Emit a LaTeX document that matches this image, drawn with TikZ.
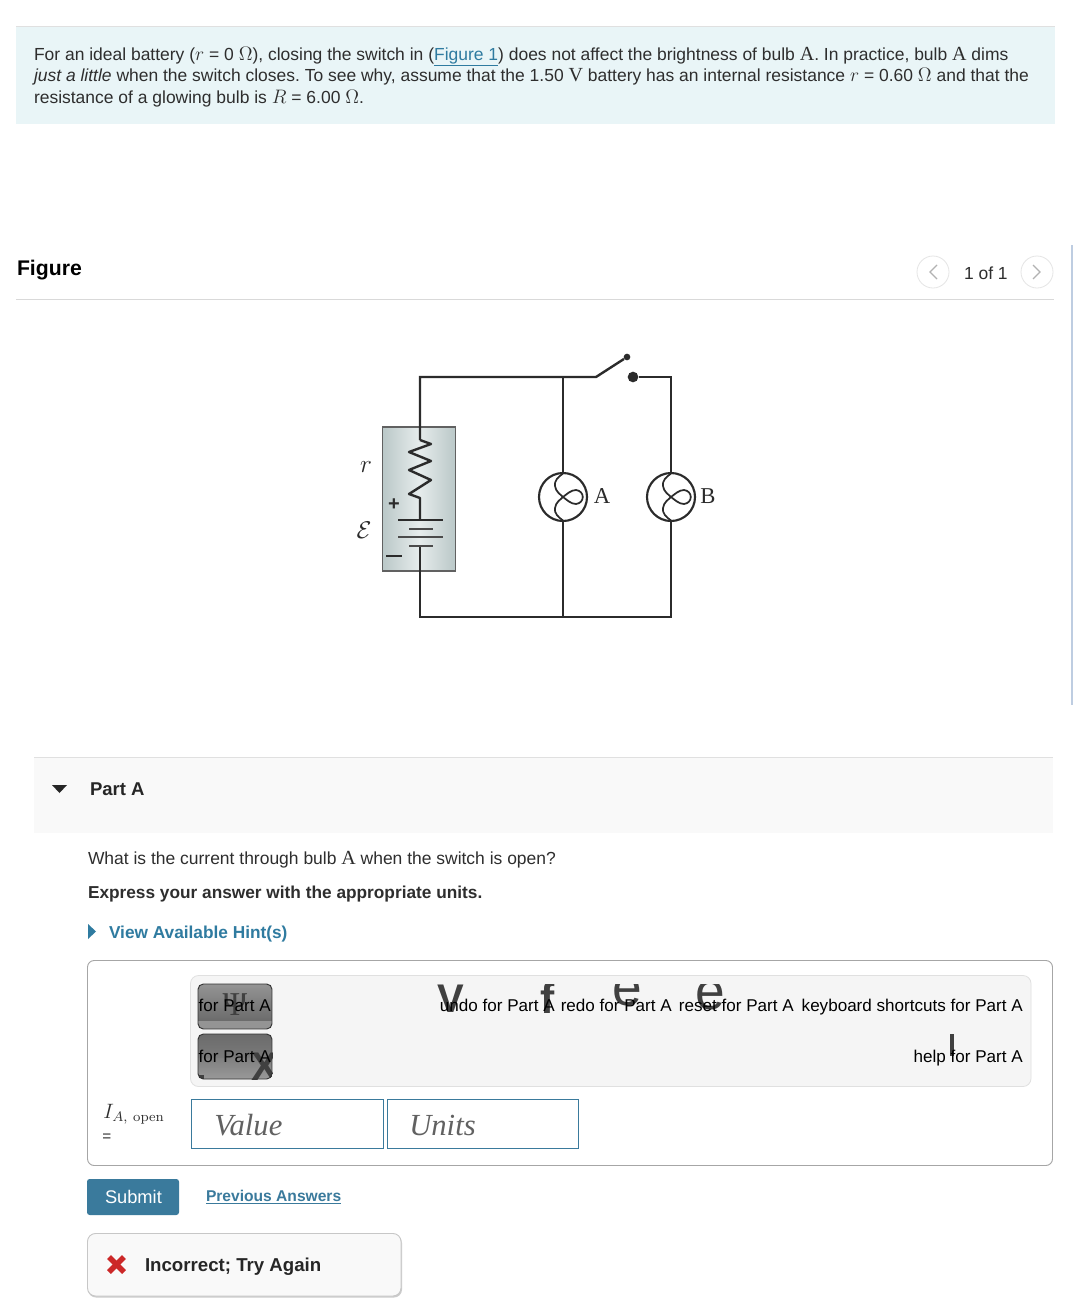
\documentclass[tikz,border=0pt]{standalone}
\usepackage[no-math]{fontspec}
\setmainfont{Liberation Sans}
\newfontfamily\lmr{Latin Modern Roman}
\newfontfamily\lser{Liberation Serif}
\usetikzlibrary{calc}
\definecolor{txt}{HTML}{2E2E2E}
\definecolor{link}{HTML}{2F7BA0}
\definecolor{teal}{HTML}{3A7A9C}
\definecolor{wirec}{HTML}{2B2B2B}
\definecolor{panel}{HTML}{E9F5F7}
\definecolor{edgeblue}{HTML}{BECDE1}
\definecolor{xred}{HTML}{CC2828}
\definecolor{battedge}{HTML}{BAC8C8}
\definecolor{battmid}{HTML}{E6ECEC}
\newcommand{\lt}[1]{{\fontsize{15pt}{14pt}\selectfont\lser #1}}
\newcommand{\mv}[1]{\scalebox{1.22}{$#1$}}
\newcommand{\filament}[1]{\draw[thinwire,shift={(#1)}] (0,-23.5) .. controls (-5,-20) and (-9,-16) .. (-8,-11) .. controls (-7,-5) and (-3,-3) .. (0,0) .. controls (4,3) and (8,7) .. (13,7) .. controls (22,6) and (22,-6) .. (13,-7) .. controls (8,-7) and (4,-3) .. (0,0) .. controls (-3,3) and (-7,5) .. (-8,11) .. controls (-9,16) and (-5,20) .. (0,23.5);}
\tikzset{
  x=0.75pt,y=-0.75pt,
  body/.style={anchor=base west,inner sep=0pt,outer sep=0pt,font=\fontsize{13.1pt}{14pt}\selectfont\frenchspacing,text=txt},
  bodyb/.style={body,font=\fontsize{12.95pt}{14pt}\selectfont\bfseries},
  wire/.style={draw=wirec,line width=1.8pt},
  thinwire/.style={draw=wirec,line width=1.3pt},
  bulb/.style={circle,draw=wirec,line width=1.6pt,minimum size=36pt,inner sep=0pt,fill=white},
  clabel/.style={anchor=center,inner sep=0pt,text=wirec,font=\fontsize{17pt}{17pt}\selectfont\lser},
  tool/.style={anchor=base east,inner sep=0pt,font=\fontsize{12.8pt}{14pt}\selectfont,text=black},
  glyph/.style={anchor=center,inner sep=0pt,text=black!75},
  inbox/.style={draw=teal,line width=0.6pt,fill=white},
  ph/.style={anchor=base west,inner sep=0pt,text=black!62,font=\fontsize{23pt}{26pt}\selectfont\lser\itshape},
  navc/.style={circle,draw=black!10,line width=0.6pt,minimum size=24pt,inner sep=0pt,fill=white},
  chev/.style={draw=black!30,line width=1pt},
}
\begin{document}
\begin{tikzpicture}
\useasboundingbox (0,0) rectangle (1084,1310);
\fill[white] (0,0) rectangle (1084,1310);
% intro panel
\fill[panel] (16,26) rectangle (1055,124);
\draw[black!12,line width=0.6pt] (16,26) -- (1055,26);
\node[body] (l1a) at (34,60) {For an ideal battery (\mv{r} = 0 \mv{\Omega}), closing the switch in (\textcolor{link}{\underline{Figure 1}}) does not affect the brightness of bulb \lt{A}. In practice, bulb \lt{A} dims};
\node[body] (l2a) at (34,81) {\textit{just a little} when the switch closes. To see why, assume that the 1.50 \lt{V} battery has an internal resistance \mv{r} = 0.60 \mv{\Omega} and that the};
\node[body] (l3a) at (34,103) {resistance of a glowing bulb is \mv{R} = 6.00 \mv{\Omega}.};
% figure heading
\node[bodyb,text=black,font=\fontsize{15.9pt}{18pt}\selectfont\bfseries] (fig) at (17,275) {Figure};
\draw[black!15,line width=0.6pt] (16,299.5) -- (1054,299.5);
\node[navc] (prev) at (933,272) {};
\node[navc] (next) at (1037,272) {};
\draw[chev] (937,265) -- (930,272) -- (937,279);
\draw[chev] (1033,265) -- (1040,272) -- (1033,279);
\node[body] (pg) at (964,279) {1 of 1};
\draw[edgeblue,line width=1pt] (1072,245) -- (1072,705);
% circuit
\node[rectangle,draw=black!62,line width=1pt,left color=battedge,right color=battedge,middle color=battmid,minimum width=54.8pt,minimum height=108pt,inner sep=0pt] (batt) at (419,499) {};
\coordinate (tl) at (420,377);
\coordinate (tm) at (563,377);
\coordinate (hinge) at (596,377);
\coordinate (tr) at (671,377);
\coordinate (bl) at (420,617);
\coordinate (bm) at (563,617);
\coordinate (br) at (671,617);
\coordinate (rtop) at (420,440);
\coordinate (rbot) at (420,498);
\coordinate (pl1) at (420,520);
\coordinate (pl4) at (420,546);
\node[bulb] (bulbA) at (563,497) {};
\node[bulb] (bulbB) at (671,497) {};
\node[circle,fill=wirec,minimum size=8pt,inner sep=0pt] (contact) at (633,377) {};
\node[circle,fill=wirec,minimum size=5pt,inner sep=0pt] (swtip) at (627,357) {};
\draw[wire] (rtop) -- (tl) -- (hinge) -- (swtip);
\draw[wire] (contact) -- (tr) -- (bulbB.north);
\draw[wire] (tm) -- (bulbA.north);
\draw[wire] (bulbA.south) -- (bm);
\draw[wire] (bulbB.south) -- (br) -- (bl) -- (pl4);
\filament{bulbA}
\filament{bulbB}
\draw[wire,line join=round] (rtop) -- (431,444) -- (409,452) -- (431,461) -- (409,470) -- (431,480) -- (409,494) -- (rbot) -- (pl1);
\draw[wirec,line width=1.6pt] (398,520) -- (443,520);
\draw[wirec!85!white,line width=1.5pt] (409,529) -- (433,529);
\draw[wirec!85!white,line width=1.5pt] (398,537) -- (443,537);
\draw[wirec!85!white,line width=1.5pt] (409,546) -- (433,546);
\node[clabel,font=\fontsize{15pt}{15pt}\selectfont\bfseries] (plus) at (394,505) {+};
\draw[wirec,line width=1.6pt] (386,556) -- (402,556);
\node[clabel] (rl) at (366,467) {\scalebox{1.1}{$r$}};
\node[clabel] (el) at (364,530) {\scalebox{1.05}{$\mathcal{E}$}};
\node[clabel] (la) at (602,496) {A};
\node[clabel] (lb) at (708,496) {B};
% part A band
\fill[black!2.5] (34,758) rectangle (1053,833);
\draw[black!12,line width=0.6pt] (34,757.5) -- (1053,757.5);
\fill[black!85] (52,785) -- (67,785) -- (59.5,793) -- cycle;
\node[bodyb,text=black!85,font=\fontsize{13.9pt}{15pt}\selectfont\bfseries] (pa) at (90,795) {Part A};
\node[body] (q) at (88,864) {What is the current through bulb \lt{A} when the switch is open?};
\node[bodyb] (ex) at (88,898) {Express your answer with the appropriate units.};
\fill[link] (88,924) -- (96,931.5) -- (88,939) -- cycle;
\node[bodyb,text=link] (hint) at (109,938) {View Available Hint(s)};
% answer box
\draw[black!35,line width=0.7pt,rounded corners=5pt] (87.5,960.5) rectangle (1052.5,1165.5);
\draw[black!12,fill=black!4,line width=0.6pt,rounded corners=6pt] (190.5,975.5) rectangle (1031,1086.5);
% toolbar buttons
\begin{scope}
\clip[rounded corners=4pt] (198,984) rectangle (272,1029);
\shade[top color=black!42,bottom color=black!58] (198,984) rectangle (272,1021);
\fill[black!42] (198,1021) rectangle (272,1029);
\node[glyph,font=\fontsize{25pt}{25pt}\selectfont\lser] (g1) at (235,1005) {Ψ};
\end{scope}
\draw[black!80,line width=0.7pt,rounded corners=4pt] (198,984) rectangle (272,1029);
\begin{scope}
\clip[rounded corners=4pt] (198,1034) rectangle (272,1079);
\shade[top color=black!58,bottom color=black!52] (198,1034) rectangle (272,1058);
\shade[top color=black!50,bottom color=black!40] (198,1058) rectangle (272,1079);
\fill[black!75] (198,1075) rectangle (204,1079);
\node[glyph,font=\fontsize{30pt}{30pt}\selectfont\bfseries] (g2) at (265,1067) {X};
\end{scope}
\draw[black!80,line width=0.7pt,rounded corners=4pt] (198,1034) rectangle (272,1079);
\node[tool] (t1) at (271,1011) {for Part A};
\node[tool] (t2) at (271,1062) {for Part A};
% toolbar glyphs
\begin{scope}
\clip (400,984) rectangle (1031,1086);
\node[glyph,font=\fontsize{30pt}{30pt}\selectfont\bfseries] (g3) at (451,999) {V};
\node[glyph,font=\fontsize{32pt}{32pt}\selectfont\bfseries] (g4) at (548,998) {f};
\node[glyph,font=\fontsize{40pt}{40pt}\selectfont] (g5) at (627,991) {e};
\node[glyph,font=\fontsize{40pt}{40pt}\selectfont] (g6) at (710,995) {e};
\fill[black!75] (949.5,1034) rectangle (954,1056);
\end{scope}
\node[tool] (t3) at (1023,1011) {keyboard shortcuts for Part A};
\node[tool] (t4) at (794,1011) {reset for Part A};
\node[tool] (t5) at (672,1011) {redo for Part A};
\node[tool] (t6) at (555,1011) {undo for Part A};
\node[tool] (t7) at (1023,1062) {help for Part A};
% input
\node[anchor=base west,inner sep=0pt,text=txt,font=\fontsize{12pt}{14pt}\selectfont] (ia) at (103,1118) {\scalebox{1.3}{$I_{A,\ \mathrm{open}}$}};
\node[anchor=base west,inner sep=0pt,text=txt,font=\fontsize{11.5pt}{14pt}\selectfont] (eq) at (102,1141) {=};
\draw[inbox] (191.5,1099.5) rectangle (383.5,1148.5);
\draw[inbox] (387.5,1099.5) rectangle (578.5,1148.5);
\node[ph] (val) at (214,1135) {Value};
\node[ph] (un) at (409,1135) {Units};
% submit
\fill[teal,rounded corners=2pt] (87,1179) rectangle (179,1215);
\node[body,text=white,font=\fontsize{13.7pt}{15pt}\selectfont] (sub) at (105,1203) {Submit};
\node[bodyb,text=teal,font=\fontsize{11.7pt}{14pt}\selectfont\bfseries] (pr) at (206,1201) {\underline{Previous Answers}};
% feedback
\fill[black!20,rounded corners=6pt] (88,1235) rectangle (402,1297.5);
\draw[black!22,fill=black!2.5,line width=0.7pt,rounded corners=6pt] (87.5,1233.5) rectangle (401,1296);
\draw[xred,line width=4pt] (109,1257) -- (124,1272);
\draw[xred,line width=4pt] (124,1257) -- (109,1272);
\node[bodyb,text=black!85,font=\fontsize{14pt}{16pt}\selectfont\bfseries] (inc) at (145,1271) {Incorrect; Try Again};
\end{tikzpicture}
\end{document}
